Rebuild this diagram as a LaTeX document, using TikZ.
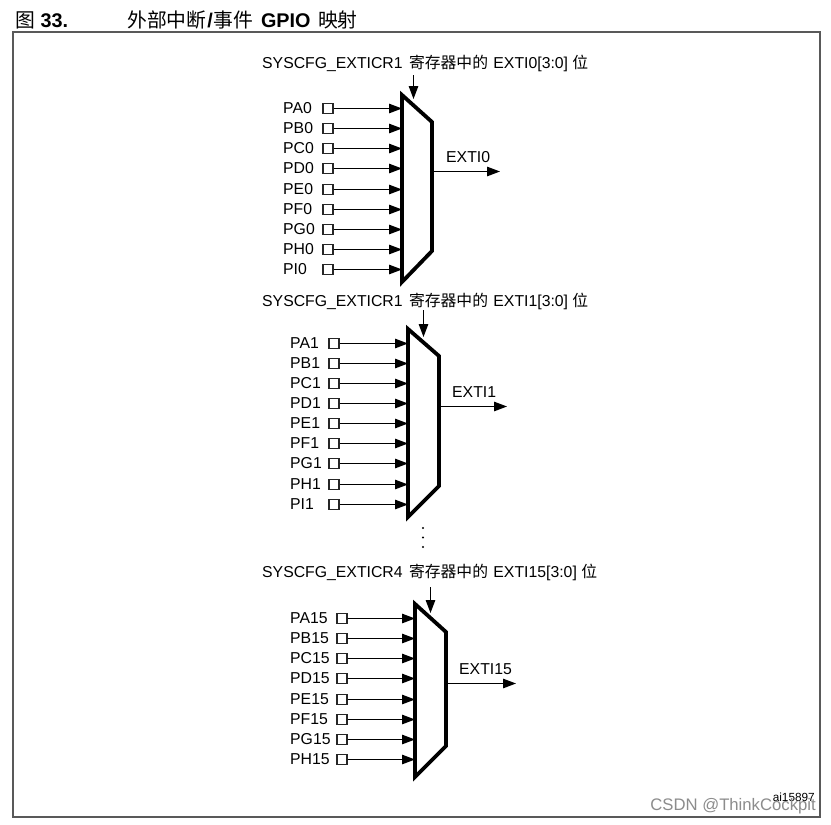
\documentclass[tikz,border=0pt]{standalone}
\usepackage{fontspec}
\setmainfont{Liberation Sans}
\newfontfamily\cjk{Noto Sans CJK SC}
\usetikzlibrary{arrows.meta,calc}
\newcommand{\lblsize}{\fontsize{15.8pt}{17pt}\selectfont}
\newcommand{\regtext}[2]{SYSCFG\_EXTICR#1\hspace{2pt} {\cjk 寄存器中的}\hspace{1pt} EXTI#2[3:0] {\cjk 位}}
\tikzset{
  x=1pt,y=-1pt,
  lbl/.style={inner sep=0pt,anchor=west,font=\lblsize},
  titletext/.style={inner sep=0pt,anchor=west,font=\fontsize{19.8pt}{22pt}\selectfont},
  pin/.style={draw=black!85,line width=1.5pt,minimum size=10pt,inner sep=0pt,fill=white},
  wire/.style={line width=1.3pt,-{Triangle[length=13pt,width=9.5pt]}},
  muxbody/.style={line width=3.8pt,miter limit=10,line join=miter},
  framebox/.style={draw=black!65,line width=1.2pt},
}
\newcommand{\rows}[6]{% #1 prefix, #2 label x, #3 square x, #4 mux x, #5 first y, #6 list
  \foreach \nm [count=\i from 0] in {#6}{
    \pgfmathsetmacro{\yy}{floor(#5+\i*20.08)+0.5}
    \node[lbl] (#1l\i) at (#2,\yy) {\nm};
    \node[pin] (#1p\i) at (#3,\yy) {};
    \coordinate (#1m\i) at (#4,\yy);
    \draw[wire] (#1p\i.east) -- (#1m\i);
  }
}
\begin{document}
\begin{tikzpicture}
\useasboundingbox (0,0) rectangle (831,825);
\fill[white] (0,0) rectangle (831,825);
\node[titletext] (fig) at (15,20) {{\cjk 图} \textbf{33.}};
\node[titletext] (ttl) at (127,20) {{\cjk 外部中断}\hspace{1pt}\textbf{/}\hspace{1pt}{\cjk 事件}\hspace{2pt} \textbf{GPIO}\hspace{2pt} {\cjk 映射}};
\draw[framebox] (13,32) rectangle (820,817);

% block 1
\node[lbl] (h0) at (262,63) {\regtext{1}{0}};
\coordinate (a0t) at (402,95);
\coordinate (a0r) at (432,122);
\coordinate (a0b) at (432,251);
\coordinate (a0e) at (402,282);
\draw[muxbody] (a0t) -- (a0r) -- (a0b) -- (a0e) -- cycle;
\rows{a}{283}{328}{402}{108.7}{PA0,PB0,PC0,PD0,PE0,PF0,PG0,PH0,PI0}
\coordinate (s0) at (413.5,75);
\coordinate (s0e) at (413.5,99);
\draw[wire] (s0) -- (s0e);
\coordinate (o0s) at (432,171.5);
\coordinate (o0e) at (500,171.5);
\draw[wire] (o0s) -- (o0e);
\node[lbl] (x0) at (446,157) {EXTI0};

% block 2
\node[lbl] (h1) at (262,301) {\regtext{1}{1}};
\coordinate (a1t) at (408,329);
\coordinate (a1r) at (439,356);
\coordinate (a1b) at (439,486);
\coordinate (a1e) at (408,517);
\draw[muxbody] (a1t) -- (a1r) -- (a1b) -- (a1e) -- cycle;
\rows{b}{290}{334}{408}{343.5}{PA1,PB1,PC1,PD1,PE1,PF1,PG1,PH1,PI1}
\coordinate (s1) at (423.5,310);
\coordinate (s1e) at (423.5,337);
\draw[wire] (s1) -- (s1e);
\coordinate (o1s) at (439,406.5);
\coordinate (o1e) at (507,406.5);
\draw[wire] (o1s) -- (o1e);
\node[lbl] (x1) at (452,392) {EXTI1};

% dots
\foreach \d in {528,537.5,547}{\fill (423,\d) circle (1.1);}

% block 3
\node[lbl] (h2) at (262,572) {\regtext{4}{15}};
\coordinate (a2t) at (415,604);
\coordinate (a2r) at (446,632);
\coordinate (a2b) at (446,746);
\coordinate (a2e) at (415,777);
\draw[muxbody] (a2t) -- (a2r) -- (a2b) -- (a2e) -- cycle;
\rows{c}{290}{342}{415}{618.7}{PA15,PB15,PC15,PD15,PE15,PF15,PG15,PH15}
\coordinate (s2) at (430.5,587);
\coordinate (s2e) at (430.5,613);
\draw[wire] (s2) -- (s2e);
\coordinate (o2s) at (446,683.5);
\coordinate (o2e) at (516,683.5);
\draw[wire] (o2s) -- (o2e);
\node[lbl] (x2) at (459,669) {EXTI15};

% corner
\node[inner sep=0pt,anchor=east,font=\fontsize{11.8pt}{12pt}\selectfont] (ai) at (815,797) {ai15897};
\node[inner sep=0pt,anchor=east,text=black!45,font=\fontsize{16.7pt}{18pt}\selectfont] (wm) at (816,806.5) {CSDN @ThinkCockpit};
\end{tikzpicture}
\end{document}
